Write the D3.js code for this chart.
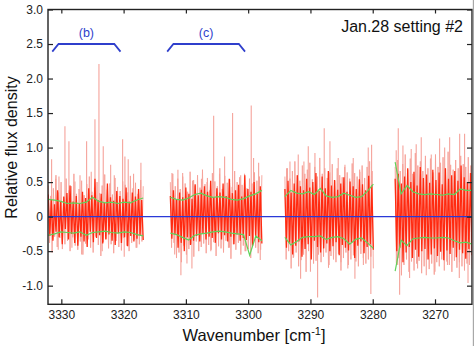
<!DOCTYPE html>
<html><head><meta charset="utf-8">
<script src="https://cdn.jsdelivr.net/npm/d3@7"></script>
<style>body{margin:0;background:#fff} svg{display:block;font-family:"Liberation Sans",Arial,sans-serif}</style>
</head><body><svg id="c" width="474" height="346"></svg>
<script>
// ---- data ----
const xTicks=[3330,3320,3310,3300,3290,3280,3270];
const yTicks=[-1.0,-0.5,0,0.5,1.0,1.5,2.0,2.5,3.0];
const yTickLabels=["-1.0","-0.5","0","0.5","1.0","1.5","2.0","2.5","3.0"];
const segRanges=[[3332.1,3316.85],[3312.5,3297.8],[3294.1,3279.9],[3276.4,3264.05]];

const core1=[0.32,-0.28,0.25,-0.35,0.18,-0.22,0.38,-0.30,0.21,-0.40,0.29,-0.18,0.34,-0.33,0.45,-0.25,0.22,-0.38,0.30,-0.42,0.19,-0.29,0.36,-0.36,0.27,-0.44,0.41,-0.22,0.31,-0.37,0.55,-0.31,0.24,-0.27,0.33,-0.39,0.20,-0.33,0.48,-0.26,0.28,-0.35,0.23,-0.41,0.37,-0.24,0.30,-0.38,0.26,-0.30,0.42,-0.43,0.22,-0.28,0.35,-0.36,0.29,-0.32,0.40,-0.27,0.24,-0.34];
const core2=[0.30,-0.32,0.38,-0.26,0.24,-0.45,0.35,-0.38,0.28,-0.50,0.42,-0.30,0.33,-0.41,0.26,-0.35,0.47,-0.28,0.31,-0.36,0.39,-0.25,0.44,-0.33,0.36,-0.29,0.52,-0.31,0.28,-0.38,0.41,-0.24,0.35,-0.33,0.48,-0.27,0.30,-0.36,0.55,-0.29,0.34,-0.40,0.38,-0.26,0.46,-0.35,0.29,-0.31,0.60,-0.34,0.40,-0.28,0.36,-0.42,0.50,-0.30,0.33,-0.37,0.44,-0.39];
const core3=[0.40,-0.45,0.52,-0.38,0.35,-0.55,0.48,-0.42,0.60,-0.36,0.44,-0.58,0.38,-0.47,0.55,-0.40,0.42,-0.62,0.50,-0.35,0.63,-0.44,0.37,-0.52,0.58,-0.46,0.41,-0.39,0.66,-0.50,0.45,-0.43,0.53,-0.37,0.39,-0.56,0.48,-0.41,0.57,-0.45,0.36,-0.49,0.51,-0.38,0.44,-0.60,0.40,-0.42,0.54,-0.36,0.47,-0.53,0.38,-0.44,0.59,-0.40,0.45,-0.48];
const core4=[0.55,-0.50,0.62,-0.45,0.48,-0.66,0.58,-0.52,0.70,-0.44,0.50,-0.60,0.65,-0.48,0.45,-0.58,0.72,-0.50,0.56,-0.47,0.61,-0.62,0.49,-0.55,0.68,-0.46,0.53,-0.57,0.64,-0.51,0.47,-0.63,0.70,-0.49,0.55,-0.54,0.60,-0.45,0.66,-0.59,0.52,-0.48,0.74,-0.53,0.57,-0.61,0.50,-0.47,0.63,-0.56];

const raw1=[0.45,-0.38,0.30,-0.52,0.41,-0.29,0.60,-0.44,0.35,-0.31,0.50,-0.47,0.28,-0.40,0.55,-0.35,0.38,-0.50,0.44,-0.30,0.62,-0.42,0.33,-0.48,0.40,-0.36,0.52,-0.55,0.31,-0.39,0.47,-0.33,0.58,-0.45,0.36,-0.52,0.42,-0.29,0.50,-0.41,0.34,-0.57,0.45,-0.37,0.61,-0.32,0.39,-0.46,0.48,-0.40,0.32,-0.53,0.56,-0.35,0.43,-0.44,0.37,-0.49,0.51,-0.31,0.46,-0.42,0.35,-0.50,0.59,-0.38,0.41,-0.34,0.49,-0.45,0.33,-0.40,0.53,-0.36,0.44];
const raw2=[0.50,-0.45,0.62,-0.38,0.44,-0.60,0.55,-0.52,0.40,-0.66,0.58,-0.42,0.48,-0.55,0.36,-0.47,0.65,-0.40,0.52,-0.58,0.45,-0.36,0.60,-0.50,0.42,-0.44,0.68,-0.39,0.47,-0.53,0.56,-0.41,0.38,-0.48,0.63,-0.37,0.51,-0.57,0.44,-0.43,0.70,-0.46,0.40,-0.52,0.59,-0.35,0.49,-0.45,0.54,-0.61,0.43,-0.40,0.66,-0.48,0.50,-0.38,0.57,-0.55,0.46,-0.42,0.62,-0.50,0.41,-0.47,0.55,-0.60,0.48,-0.39,0.64,-0.45,0.52,-0.53,0.58,-0.48,0.60];
const raw3=[0.58,-0.62,0.70,-0.50,0.55,-0.75,0.66,-0.58,0.80,-0.52,0.60,-0.72,0.52,-0.63,0.74,-0.55,0.62,-0.80,0.68,-0.50,0.78,-0.60,0.54,-0.68,0.72,-0.64,0.58,-0.55,0.85,-0.66,0.62,-0.58,0.70,-0.52,0.56,-0.74,0.64,-0.57,0.76,-0.62,0.52,-0.66,0.70,-0.54,0.60,-0.78,0.57,-0.60,0.72,-0.52,0.64,-0.70,0.55,-0.62,0.77,-0.56,0.63,-0.65,0.58,-0.72,0.68,-0.54,0.74,-0.60,0.56,-0.68,0.72,-0.62,0.80,-0.58,0.66,-0.75];
const raw4=[0.72,-0.68,0.82,-0.60,0.66,-0.85,0.76,-0.70,0.90,-0.62,0.68,-0.80,0.84,-0.65,0.62,-0.78,0.92,-0.68,0.74,-0.64,0.80,-0.82,0.66,-0.72,0.88,-0.62,0.70,-0.76,0.84,-0.68,0.64,-0.84,0.90,-0.66,0.72,-0.72,0.78,-0.62,0.86,-0.78,0.70,-0.65,0.94,-0.70,0.75,-0.80,0.68,-0.64,0.82,-0.74,0.70,-0.66,0.88,-0.72,0.76,-0.78,0.72,-0.68,0.86,-0.70,0.74,-0.76];

const upper1=[0.25,0.24,0.22,0.19,0.20,0.19,0.21,0.28,0.22,0.20,0.21,0.19,0.21,0.20,0.24,0.27];
const lower1=[-0.27,-0.25,-0.22,-0.23,-0.24,-0.22,-0.27,-0.23,-0.22,-0.21,-0.23,-0.24,-0.22,-0.23,-0.26,-0.28];
const upper2=[0.28,0.25,0.24,0.27,0.32,0.34,0.30,0.28,0.29,0.28,0.25,0.24,0.26,0.30,0.33,0.38];
const lower2=[-0.24,-0.26,-0.30,-0.34,-0.27,-0.25,-0.24,-0.22,-0.21,-0.22,-0.24,-0.25,-0.26,-0.56,-0.28,-0.35];
const upper3=[0.29,0.38,0.34,0.33,0.36,0.32,0.41,0.30,0.28,0.29,0.34,0.31,0.28,0.29,0.37,0.47];
const lower3=[-0.30,-0.41,-0.36,-0.30,-0.29,-0.29,-0.28,-0.33,-0.30,-0.29,-0.32,-0.40,-0.33,-0.31,-0.38,-0.46];
const upper4=[0.79,0.33,0.45,0.36,0.33,0.32,0.33,0.32,0.31,0.33,0.32,0.40,0.38,0.38];
const lower4=[-0.79,-0.34,-0.42,-0.32,-0.31,-0.30,-0.31,-0.31,-0.30,-0.31,-0.35,-0.38,-0.37,-0.40];

// spikes: [wavenumber, value]
const spikes1=[[3331.56,0.83],[3330.9,0.55],[3330.38,0.58],[3329.42,1.31],[3328.78,1.09],[3327.81,0.51],[3327.0,0.60],[3325.94,1.09],[3325.2,0.65],[3324.6,1.41],[3323.96,2.21],[3323.27,1.02],[3322.08,0.75],[3321.5,0.60],[3320.16,1.12],[3319.79,0.87],[3319.26,0.83],[3318.4,0.62],[3317.22,0.78],
 [3330.5,-0.48],[3328.3,-0.45],[3326.74,-0.55],[3323.43,-0.50],[3319.9,-0.58],[3318.0,-0.45]];
const spikes2=[[3312.24,0.63],[3311.28,0.68],[3310.52,0.63],[3308.76,0.53],[3307.5,0.55],[3306.6,0.50],[3305.54,1.46],[3304.6,0.62],[3303.78,0.87],[3302.5,1.50],[3301.2,0.60],[3299.51,1.61],[3299.13,0.85],[3298.32,0.78],
 [3311.8,-0.55],[3310.8,-0.85],[3309.83,-0.68],[3309.03,-0.75],[3306.0,-0.50],[3303.0,-0.45],[3300.5,-0.50],[3298.06,-0.63]];
const spikes3=[[3293.83,0.70],[3293.29,0.80],[3291.96,0.90],[3291.05,0.80],[3290.35,1.02],[3289.28,0.92],[3287.79,1.28],[3286.87,1.09],[3285.54,0.85],[3284.46,0.75],[3283.13,0.85],[3282.06,0.65],[3280.72,1.00],[3280.18,1.04],
 [3292.76,-0.60],[3291.58,-0.90],[3290.0,-0.80],[3288.85,-1.17],[3287.0,-0.70],[3285.1,-0.66],[3284.0,-0.75],[3282.86,-0.90],[3281.5,-0.70],[3280.3,-1.12]];
const spikes4=[[3276.23,0.96],[3275.9,1.28],[3275.15,1.03],[3273.82,0.98],[3273.02,1.05],[3272.21,1.15],[3270.6,0.90],[3269.26,1.13],[3268.45,1.00],[3267.65,1.15],[3266.04,1.20],[3265.25,1.20],
 [3276.0,-0.70],[3275.68,-1.13],[3274.08,-0.89],[3272.8,-0.75],[3271.4,-0.85],[3270.0,-0.80],[3268.0,-0.70],[3266.1,-0.89],[3264.7,-0.96]];

const brackets=[{label:"(b)",from:3331.45,to:3320.5},{label:"(c)",from:3313.0,to:3300.5}];
const titleText="Jan.28 setting #2";

// ---- drawing ----
const svg=d3.select("#c");
const L=48,R=472,T=9.5,B=304.3;
const x=d3.scaleLinear().domain([3332.14,3264.06]).range([L,R]);
const y=d3.scaleLinear().domain([-1.27,3.0]).range([B,T]);

svg.append("defs").append("clipPath").attr("id","clp").append("rect")
  .attr("x",L).attr("y",T).attr("width",R-L).attr("height",B-T);
const g=svg.append("g").attr("clip-path","url(#clp)");

const cores=[core1,core2,core3,core4];
const raws=[raw1,raw2,raw3,raw4];
const uppers=[upper1,upper2,upper3,upper4];
const lowers=[lower1,lower2,lower3,lower4];
const spikes=[spikes1,spikes2,spikes3,spikes4];
const withX=(arr,rg)=>arr.map((v,i)=>[rg[0]+(rg[1]-rg[0])*i/(arr.length-1),v]);
const line=d3.line().x(d=>x(d[0])).y(d=>y(d[1]));

// pink spikes
spikes.forEach(sp=>{
  g.selectAll(null).data(sp).join("line")
    .attr("x1",d=>x(d[0])).attr("x2",d=>x(d[0]))
    .attr("y1",y(0)).attr("y2",d=>y(d[1]))
    .attr("stroke","#f5a39b").attr("stroke-width",1.1);
});
// pink raw trace
raws.forEach((c,i)=>{
  g.append("path").datum(withX(c,segRanges[i])).attr("d",line)
    .attr("fill","none").attr("stroke","#f6a097").attr("stroke-width",0.9);
});
// red core
cores.forEach((c,i)=>{
  g.append("path").datum(withX(c,segRanges[i])).attr("d",line)
    .attr("fill","none").attr("stroke","#ff2a10").attr("stroke-width",1.3);
});
// green envelopes
[uppers,lowers].forEach(set=>set.forEach((c,i)=>{
  g.append("path").datum(withX(c,segRanges[i])).attr("d",line)
    .attr("fill","none").attr("stroke","#5fd35a").attr("stroke-width",1.2);
}));
// blue zero line
g.append("line").attr("x1",L).attr("x2",R).attr("y1",y(0)).attr("y2",y(0))
  .attr("stroke","#2a3ad8").attr("stroke-width",1.4);

// axes
const fmtY=d=>yTickLabels[yTicks.indexOf(d)];
const ax=svg.append("g").attr("transform",`translate(0,${B})`)
  .call(d3.axisBottom(x).tickValues(xTicks).tickFormat(d3.format("d")).tickSize(-5).tickSizeOuter(0).tickPadding(6));
const ay=svg.append("g").attr("transform",`translate(${L},0)`)
  .call(d3.axisLeft(y).tickValues(yTicks).tickFormat(fmtY).tickSize(-5).tickSizeOuter(0).tickPadding(5));
const at=svg.append("g").attr("transform",`translate(0,${T})`)
  .call(d3.axisTop(x).tickValues(xTicks).tickFormat("").tickSize(-4).tickSizeOuter(0));
const ar=svg.append("g").attr("transform",`translate(${R},0)`)
  .call(d3.axisRight(y).tickValues(yTicks).tickFormat("").tickSize(-5).tickSizeOuter(0));
[ax,ay,at,ar].forEach(a=>{
  a.select(".domain").remove();
  a.selectAll("line").attr("stroke","#222").attr("stroke-width",1.2);
  a.selectAll("text").attr("fill","#222").attr("font-size",12).attr("font-family",'"Liberation Sans",Arial,sans-serif');
});
svg.append("rect").attr("x",L).attr("y",T).attr("width",R-L).attr("height",B-T)
  .attr("fill","none").attr("stroke","#222").attr("stroke-width",1.4);
svg.append("rect").attr("x",R+0.8).attr("y",0).attr("width",2).attr("height",346).attr("fill","#a8a8a8");

// brackets
const bb=svg.append("g");
brackets.forEach(b=>{
  const inset=1.0;
  const pts=[[b.from,2.39],[b.from-inset,2.5],[b.to+inset,2.5],[b.to,2.39]];
  bb.append("path").datum(pts).attr("d",line).attr("fill","none")
    .attr("stroke","#2f3fcc").attr("stroke-width",1.8);
  bb.append("text").attr("x",x((b.from+b.to)/2)).attr("y",y(2.6))
    .attr("text-anchor","middle").attr("font-size",12.5).attr("fill","#2f3fcc").text(b.label);
});

// title
svg.append("text").attr("x",463).attr("y",31.5).attr("text-anchor","end")
  .attr("font-size",16).attr("fill","#111").text(titleText);

// axis titles
const xt=svg.append("text").attr("x",254).attr("y",341).attr("text-anchor","middle")
  .attr("font-size",16.5).attr("fill","#111");
xt.append("tspan").text("Wavenumber [cm");
xt.append("tspan").attr("dy",-6).attr("font-size",11).text("-1");
xt.append("tspan").attr("dy",6).text("]");
svg.append("text").attr("transform",`translate(17,${147.5}) rotate(-90)`)
  .attr("text-anchor","middle").attr("font-size",16).attr("fill","#111").text("Relative flux density");
</script></body></html>
